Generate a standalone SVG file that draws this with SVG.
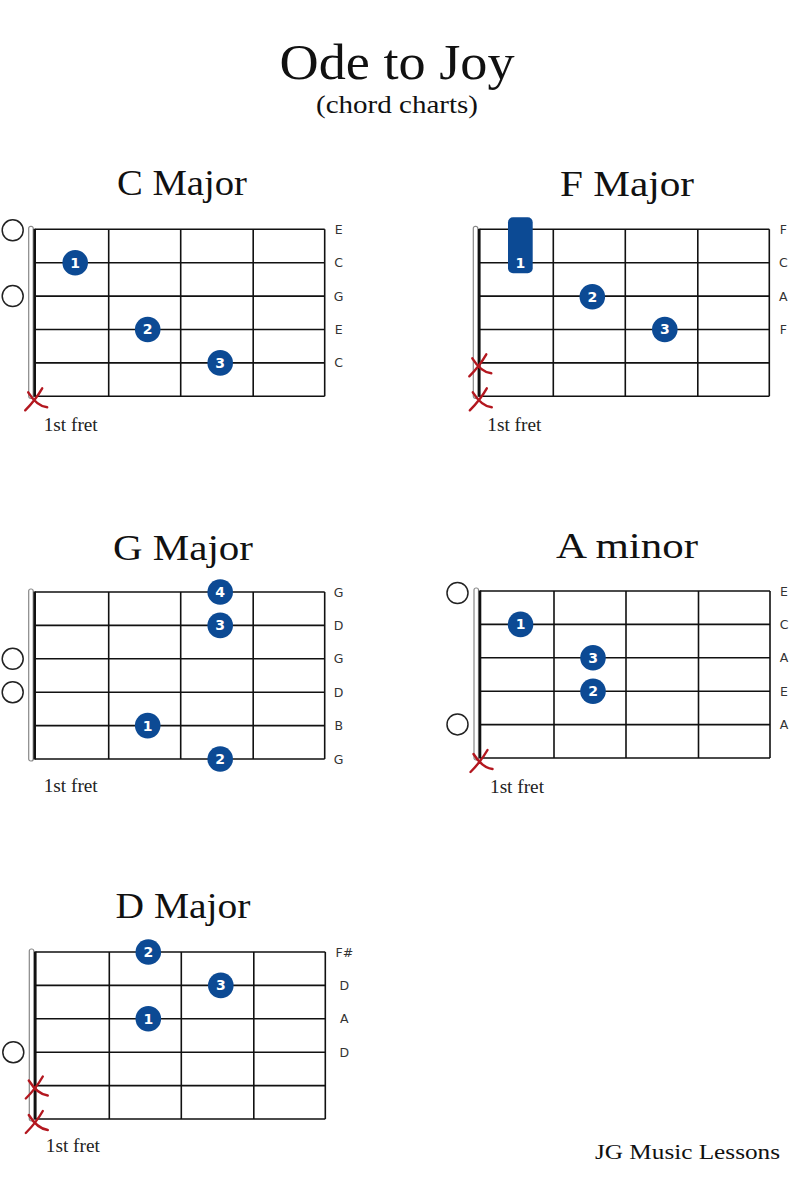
<svg xmlns="http://www.w3.org/2000/svg" xmlns:xlink="http://www.w3.org/1999/xlink" width="794" height="1197" viewBox="0 0 794 1197">
<style>
.title{font-family:"Liberation Serif",serif;fill:#111;text-anchor:middle}
.chord{font-family:"Liberation Serif",serif;font-size:35px;fill:#111;text-anchor:middle}
.fret{font-family:"Liberation Serif",serif;font-size:19px;fill:#222}
.lbl{font-family:"DejaVu Sans",sans-serif;font-size:12.5px;fill:#333;text-anchor:middle}
.dot{fill:#0c4a94}
.num{font-family:"DejaVu Sans",sans-serif;font-size:14px;font-weight:bold;fill:#fff;text-anchor:middle}
.open{fill:#fff;stroke:#222;stroke-width:1.5}
.mute{fill:none;stroke:#b3171f;stroke-width:2.4;stroke-linecap:round}
.gl{stroke:#111;stroke-width:1.6;fill:none}
</style>
<defs>
<g id="grid">
<rect x="-6" y="-3" width="4.5" height="172" rx="2" fill="#fff" stroke="#888" stroke-width="1.2"/>
<path class="gl" d="M0,0H290M0,33.4H290M0,66.8H290M0,100.2H290M0,133.6H290M0,167H290M74,0V167M146,0V167M218.5,0V167M290,0V167"/>
<line x1="0" y1="-0.5" x2="0" y2="167.5" stroke="#111" stroke-width="2.6"/>
</g>
<path id="x" class="mute" d="M7,-10C3,-3 -3,5 -10,12M-7,-6C-2,2 4,8 12,9"/>
</defs>

<g id="header">
<text class="title" x="397" y="79" font-size="51" textLength="235" lengthAdjust="spacingAndGlyphs">Ode to Joy</text>
<text class="title" x="397" y="113" font-size="26" textLength="162" lengthAdjust="spacingAndGlyphs">(chord charts)</text>
</g>

<g id="c-major">
<text class="chord" x="182" y="195" textLength="130" lengthAdjust="spacingAndGlyphs">C Major</text>
<g transform="translate(34.7,229.3)">
<use xlink:href="#grid"/>
<circle class="open" cx="-22" cy="1" r="10.5"/>
<circle class="open" cx="-22" cy="66.8" r="10.5"/>
<use xlink:href="#x" transform="translate(0.5,169)"/>
<circle class="dot" cx="40.5" cy="33.4" r="12.8"/><text class="num" x="40.5" y="38.4">1</text>
<circle class="dot" cx="113" cy="100.2" r="12.8"/><text class="num" x="113" y="105.2">2</text>
<circle class="dot" cx="185.5" cy="133.6" r="12.8"/><text class="num" x="185.5" y="138.6">3</text>
<text class="lbl" x="304" y="4.5">E</text>
<text class="lbl" x="304" y="37.9">C</text>
<text class="lbl" x="304" y="71.3">G</text>
<text class="lbl" x="304" y="104.7">E</text>
<text class="lbl" x="304" y="138.1">C</text>
<text class="fret" x="9" y="202" textLength="54" lengthAdjust="spacingAndGlyphs">1st fret</text>
</g>
</g>

<g id="f-major">
<text class="chord" x="627" y="196" textLength="134" lengthAdjust="spacingAndGlyphs">F Major</text>
<g transform="translate(479.3,229.3)">
<use xlink:href="#grid"/>
<rect class="dot" x="28.7" y="-12" width="24.7" height="56" rx="5"/><text class="num" x="41" y="38.4">1</text>
<circle class="dot" cx="113" cy="67.5" r="12.8"/><text class="num" x="113" y="72.5">2</text>
<circle class="dot" cx="185.5" cy="100.2" r="12.8"/><text class="num" x="185.5" y="105.2">3</text>
<use xlink:href="#x" transform="translate(0,135)"/>
<use xlink:href="#x" transform="translate(0.5,169)"/>
<text class="lbl" x="304" y="4.5">F</text>
<text class="lbl" x="304" y="37.9">C</text>
<text class="lbl" x="304" y="71.3">A</text>
<text class="lbl" x="304" y="104.7">F</text>
<text class="fret" x="8" y="202" textLength="54" lengthAdjust="spacingAndGlyphs">1st fret</text>
</g>
</g>

<g id="g-major">
<text class="chord" x="183" y="560" textLength="140" lengthAdjust="spacingAndGlyphs">G Major</text>
<g transform="translate(34.7,592)">
<use xlink:href="#grid"/>
<circle class="open" cx="-22" cy="66.8" r="10.5"/>
<circle class="open" cx="-22" cy="100.2" r="10.5"/>
<circle class="dot" cx="185.5" cy="0" r="12.8"/><text class="num" x="185.5" y="5">4</text>
<circle class="dot" cx="185.5" cy="33.4" r="12.8"/><text class="num" x="185.5" y="38.4">3</text>
<circle class="dot" cx="113" cy="133.6" r="12.8"/><text class="num" x="113" y="138.6">1</text>
<circle class="dot" cx="185.5" cy="167" r="12.8"/><text class="num" x="185.5" y="172">2</text>
<text class="lbl" x="304" y="4.5">G</text>
<text class="lbl" x="304" y="37.9">D</text>
<text class="lbl" x="304" y="71.3">G</text>
<text class="lbl" x="304" y="104.7">D</text>
<text class="lbl" x="304" y="138.1">B</text>
<text class="lbl" x="304" y="171.5">G</text>
<text class="fret" x="9" y="200" textLength="54" lengthAdjust="spacingAndGlyphs">1st fret</text>
</g>
</g>

<g id="a-minor">
<text class="chord" x="627" y="558" textLength="142" lengthAdjust="spacingAndGlyphs">A minor</text>
<g transform="translate(480,591)">
<use xlink:href="#grid"/>
<circle class="open" cx="-22.5" cy="2" r="10.5"/>
<circle class="open" cx="-22.5" cy="133.4" r="10.5"/>
<use xlink:href="#x" transform="translate(0.5,169)"/>
<circle class="dot" cx="40.5" cy="33.4" r="12.8"/><text class="num" x="40.5" y="38.4">1</text>
<circle class="dot" cx="113" cy="66.8" r="12.8"/><text class="num" x="113" y="71.8">3</text>
<circle class="dot" cx="113" cy="100.2" r="12.8"/><text class="num" x="113" y="105.2">2</text>
<text class="lbl" x="304" y="4.5">E</text>
<text class="lbl" x="304" y="37.9">C</text>
<text class="lbl" x="304" y="71.3">A</text>
<text class="lbl" x="304" y="104.7">E</text>
<text class="lbl" x="304" y="138.1">A</text>
<text class="fret" x="10" y="202" textLength="54" lengthAdjust="spacingAndGlyphs">1st fret</text>
</g>
</g>

<g id="d-major">
<text class="chord" x="183" y="918" textLength="135" lengthAdjust="spacingAndGlyphs">D Major</text>
<g transform="translate(35.3,952)">
<use xlink:href="#grid"/>
<circle class="open" cx="-22" cy="100.2" r="10.5"/>
<use xlink:href="#x" transform="translate(0.5,134.5)"/>
<use xlink:href="#x" transform="translate(0.5,169)"/>
<circle class="dot" cx="113" cy="0" r="12.8"/><text class="num" x="113" y="5">2</text>
<circle class="dot" cx="185.5" cy="33.4" r="12.8"/><text class="num" x="185.5" y="38.4">3</text>
<circle class="dot" cx="113" cy="66.8" r="12.8"/><text class="num" x="113" y="71.8">1</text>
<text class="lbl" x="309" y="4.5">F#</text>
<text class="lbl" x="309" y="37.9">D</text>
<text class="lbl" x="309" y="71.3">A</text>
<text class="lbl" x="309" y="104.7">D</text>
<text class="fret" x="10.5" y="200" textLength="54" lengthAdjust="spacingAndGlyphs">1st fret</text>
</g>
</g>

<g id="footer">
<text class="title" x="780" y="1159" font-size="22" style="text-anchor:end" textLength="185" lengthAdjust="spacingAndGlyphs">JG Music Lessons</text>
</g>
</svg>
